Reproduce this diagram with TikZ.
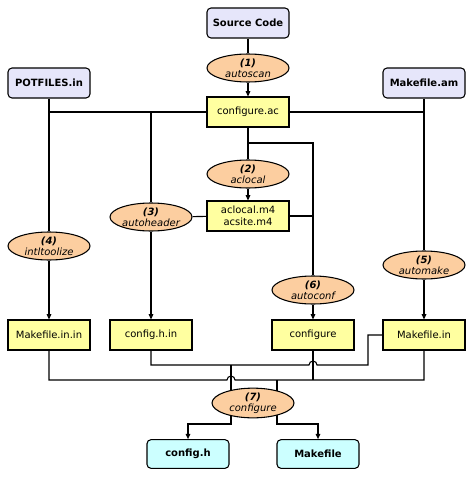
\documentclass[tikz,border=0pt]{standalone}
\usepackage{fontspec}
\setmainfont{DejaVu Sans}
\definecolor{srcfill}{RGB}{230,230,250}
\definecolor{filefill}{RGB}{255,255,160}
\definecolor{toolfill}{RGB}{252,206,160}
\definecolor{outfill}{RGB}{204,255,255}
\usetikzlibrary{arrows.meta,shapes.geometric,backgrounds}

\tikzset{
  srcbox/.style={draw,thick,rounded corners=3pt,fill=srcfill,minimum width=61.5pt,
    minimum height=22.5pt,font=\fontsize{7.5}{9}\selectfont\bfseries},
  outbox/.style={srcbox,fill=outfill,minimum height=21.5pt},
  filebox/.style={draw,thick,fill=filefill,minimum width=61.5pt,minimum height=22.5pt,
    align=center,font=\fontsize{7.5}{9}\selectfont},
  toolell/.style={draw,thick,ellipse,fill=toolfill,minimum width=61.5pt,minimum height=21pt,
    inner sep=0pt,align=center,font=\fontsize{7.5}{8.5}\selectfont\itshape},
  link/.style={thick},
  flow/.style={thick,-{Triangle[length=4pt,width=3.5pt]}},
}
\newcommand{\toolname}[2]{\textbf{(#1)}\\#2}

\begin{document}
\begin{tikzpicture}[x=0.75pt,y=0.75pt]
  \useasboundingbox (0,0) rectangle (474,-478);
  % inputs
  \node[srcbox] (src) at (248,-23) {Source Code};
  \node[srcbox] (pot) at (49,-83) {POTFILES.in};
  \node[srcbox] (mam) at (424,-83) {Makefile.am};
  % tools and generated files
  \node[toolell] (s1) at (248,-68) {\toolname{1}{autoscan}};
  \node[filebox] (cac) at (248,-112) {configure.ac};
  \node[toolell] (s2) at (248,-174) {\toolname{2}{aclocal}};
  \node[filebox] (m4) at (248,-216) {aclocal.m4\\acsite.m4};
  \node[toolell] (s3) at (151,-217) {\toolname{3}{autoheader}};
  \node[toolell] (s4) at (49,-246) {\toolname{4}{intltoolize}};
  \node[toolell] (s5) at (424,-265) {\toolname{5}{automake}};
  \node[toolell] (s6) at (313,-290) {\toolname{6}{autoconf}};
  \node[filebox] (mii) at (49,-335) {Makefile.in.in};
  \node[filebox] (cfh) at (151,-335) {config.h.in};
  \node[filebox] (cfg) at (313,-335) {configure};
  \node[filebox] (min) at (424,-335) {Makefile.in};
  \node[toolell] (s7) at (253,-403) {\toolname{7}{configure}};
  % outputs
  \node[outbox] (cfgh) at (188,-454) {config.h};
  \node[outbox] (mk) at (318,-454) {Makefile};

  \coordinate (c1) at (248,-143);
  \coordinate (j1) at (231,-365);
  \coordinate (j2) at (277,-380);
  \coordinate (k1) at (368,-365);

  \begin{scope}[on background layer]
    \draw[link] (src) -- (s1);
    \draw[flow] (s1) -- (cac);
    \draw[link] (pot |- cac) -- (cac);
    \draw[link] (cac) -- (mam |- cac);
    \draw[link] (pot) -- (s4);
    \draw[link] (mam) -- (s5);
    \draw[link] (s3 |- cac) -- (s3);
    \draw[link] (cac) -- (s2);
    \draw[flow] (s2) -- (m4);
    \draw[link] (c1) -| (s6);
    \draw[link] (s3) -- (m4);
    \draw[link] (m4) -- (m4 -| s6);
    \draw[flow] (s4) -- (mii);
    \draw[flow] (s3) -- (cfh);
    \draw[flow] (s6) -- (cfg);
    \draw[flow] (s5) -- (min);
    % into configure
    \draw[link] (mii) |- (227,-380) arc[start angle=180,end angle=0,radius=3pt]
      -- (min |- j2) -- (min);
    \draw[link] (cfg) -- (cfg |- j2);
    \draw[link] (cfh) |- (309,-365) arc[start angle=180,end angle=0,radius=3pt]
      -- (k1) |- (min.west);
    \draw[link] (j1) -- (j1 |- s7);
    \draw[link] (j2) -- (j2 |- s7);
    \draw[flow] (j1 |- s7) -- ++(0,-21) -| (cfgh);
    \draw[flow] (j2 |- s7) -- ++(0,-21) -| (mk);
  \end{scope}
\end{tikzpicture}
\end{document}
